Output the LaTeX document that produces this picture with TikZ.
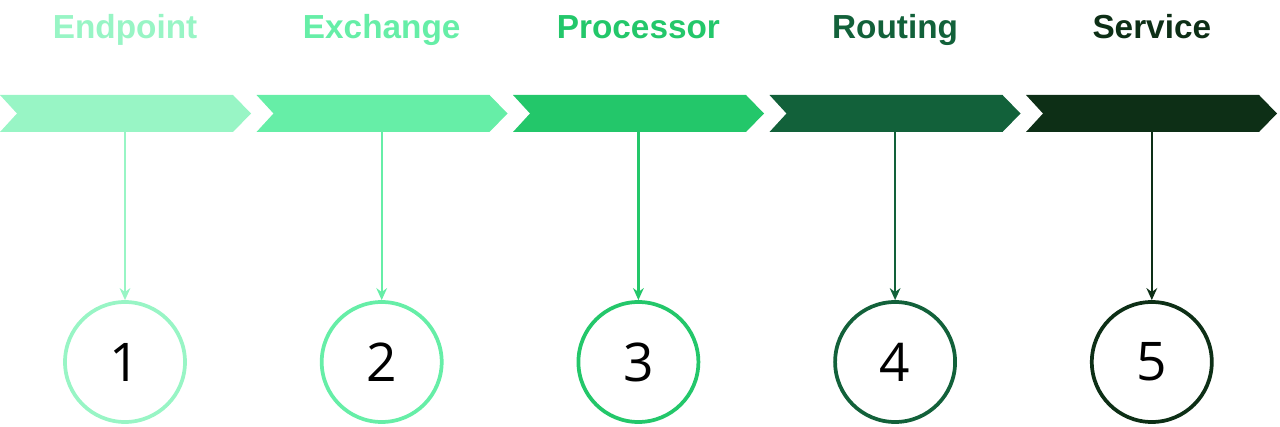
\documentclass[tikz,border=0pt]{standalone}
\usepackage{fontspec}
\setmainfont{Liberation Sans}
\newfontfamily\numfont{Open Sans}
\usetikzlibrary{arrows.meta}
\definecolor{c0}{HTML}{98F5C5}
\definecolor{c1}{HTML}{66EEA7}
\definecolor{c2}{HTML}{23C76A}
\definecolor{c3}{HTML}{12613A}
\definecolor{c4}{HTML}{0D2F16}
\tikzset{
 title/.style={font=\fontsize{25}{28}\selectfont\bfseries, anchor=base},
 numc/.style={circle, draw, line width=2.8pt, minimum size=90pt, inner sep=0pt, font=\numfont\fontsize{40}{44}\selectfont},
 conn/.style={line width=1.8pt, -{Stealth[length=9pt,width=8pt]}}
}
\begin{document}
\begin{tikzpicture}[x=0.75pt,y=-0.75pt]
\useasboundingbox (0,0) rectangle (1280,427);
\foreach \i/\t/\c in {0/Endpoint/c0,1/Exchange/c1,2/Processor/c2,3/Routing/c3,4/Service/c4}{
  \pgfmathsetmacro{\L}{256.5*\i}
  \pgfmathsetmacro{\M}{256.7*\i+125}
  \fill[\c] (\L,95) -- (\L+233,95) -- (\L+251,113.5) -- (\L+233,132) -- (\L,132) -- (\L+17,113.5) -- cycle;
  \node[title, text=\c] (t\i) at (\M,39) {\t};
  \coordinate (s\i) at (\M,132);
  \pgfmathtruncatemacro{\n}{\i+1}
  \node[numc, draw=\c] (n\i) at (\M,362) {\n};
  \draw[conn,\c] (s\i) -- (n\i.north);
}
\end{tikzpicture}
\end{document}
